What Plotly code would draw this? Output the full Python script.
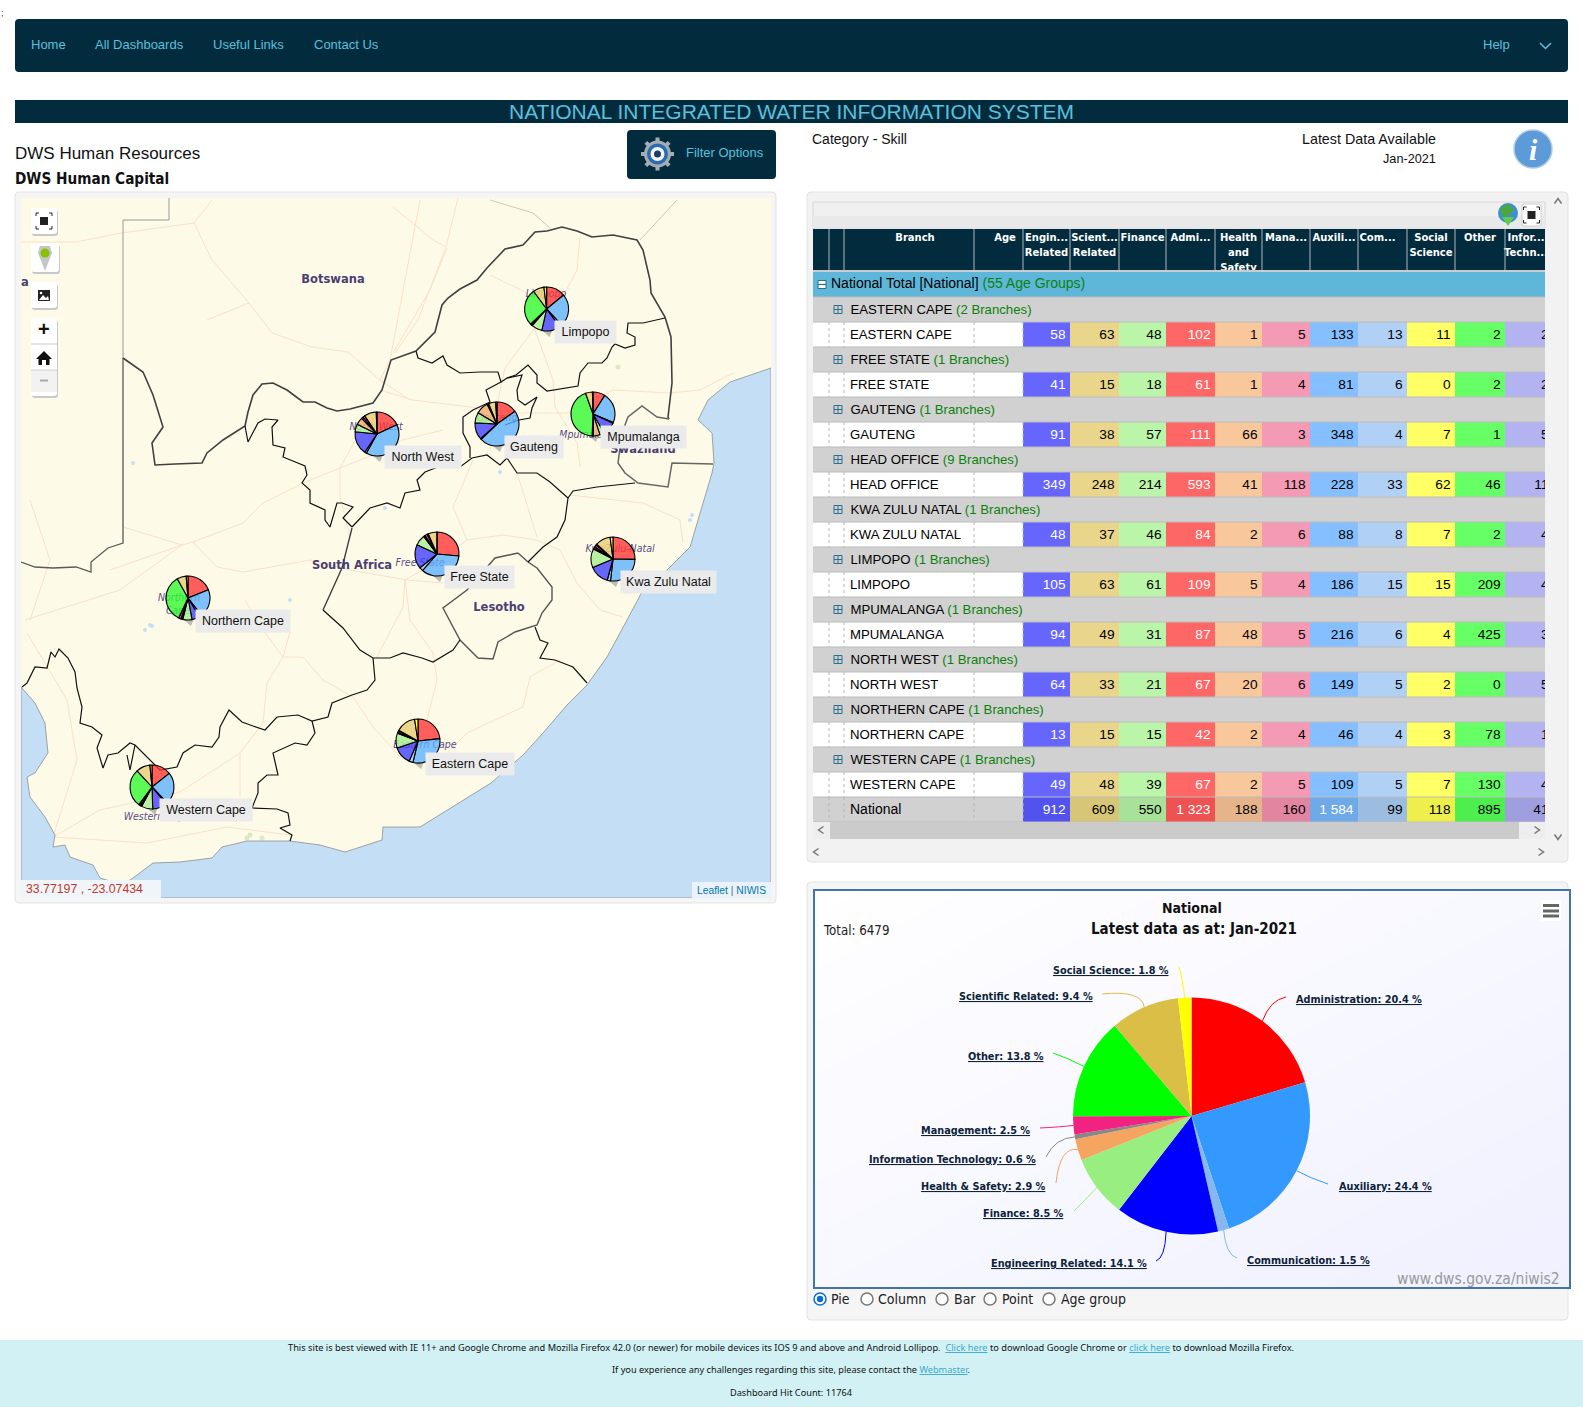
import math
import plotly.graph_objects as go

W, H = 1583, 1407

# ---------- table data ----------
branches = ["EASTERN CAPE", "FREE STATE", "GAUTENG", "HEAD OFFICE", "KWA ZULU NATAL", "LIMPOPO",
            "MPUMALANGA", "NORTH WEST", "NORTHERN CAPE", "WESTERN CAPE"]
branch_counts = [2, 1, 1, 9, 1, 1, 1, 1, 1, 1]
engineering = [58, 41, 91, 349, 48, 105, 94, 64, 13, 49]
scientific = [63, 15, 38, 248, 37, 63, 49, 33, 15, 48]
finance = [48, 18, 57, 214, 46, 61, 31, 21, 15, 39]
administration = [102, 61, 111, 593, 84, 109, 87, 67, 42, 67]
health = [1, 1, 66, 41, 2, 5, 48, 20, 2, 2]
management = [5, 4, 3, 118, 6, 4, 5, 6, 4, 5]
auxiliary = [133, 81, 348, 228, 88, 186, 216, 149, 46, 109]
communication = [13, 6, 4, 33, 8, 15, 6, 5, 4, 5]
social = [11, 0, 7, 62, 7, 15, 4, 2, 3, 7]
other = [2, 2, 1, 46, 2, 209, 425, 0, 78, 130]
info_tech = [2, 2, 5, 11, 4, 4, 3, 5, 1, 4]

table_columns = [engineering, scientific, finance, administration, health, management,
                 auxiliary, communication, social, other, info_tech]
header_lines = [["Engin...", "Related"], ["Scient...", "Related"], ["Finance"], ["Admi..."],
                ["Health", "and", "Safety"], ["Mana..."], ["Auxili..."], ["Com..."],
                ["Social", "Science"], ["Other"], ["Infor...", "Techn..."]]

# ---------- pie data ----------
pie_labels = ["Administration", "Auxiliary", "Communication", "Engineering Related", "Finance",
              "Health & Safety", "Information Technology", "Management", "Other",
              "Scientific Related", "Social Science"]
pie_series = [administration, auxiliary, communication, engineering, finance, health,
              info_tech, management, other, scientific, social]
pie_colors = ["#ff0000", "#3399ff", "#85b8ee", "#0000ff", "#99ee80", "#f5a55f", "#888888",
              "#f22280", "#00ff00", "#dbbe45", "#ffff00"]
mini_colors = ["rgba(255,50,50,.78)", "rgba(90,175,255,.78)", "rgba(150,200,245,.8)", "rgba(60,60,255,.78)",
               "rgba(170,240,150,.85)", "rgba(245,175,115,.85)", "rgba(120,120,120,.85)",
               "rgba(240,40,130,.85)", "rgba(50,250,50,.8)", "rgba(232,208,125,.88)", "rgba(255,255,60,.9)"]
province_names = ["Limpopo", "Mpumalanga", "Gauteng", "North West", "Free State", "Kwa Zulu Natal",
                  "Northern Cape", "Eastern Cape", "Western Cape"]
province_rows = [5, 6, 2, 7, 1, 4, 8, 0, 9]

# ---------- map geography, in map grid units ----------
sea = [(771,368),(730,382),(708,400),(698,420),(712,433),(714,463),(712,473),(702,507),(690,547),(667,570),
       (643,590),(627,620),(607,657),(587,685),(567,705),(543,733),(523,755),(491,783),(453,807),(420,827),
       (383,827),(382,840),(345,852),(320,845),(290,841),(247,841),(222,847),(212,858),(180,862),(153,863),
       (137,875),(123,885),(100,878),(93,865),(70,857),(65,845),(53,847),(55,835),(45,817),(30,797),(27,777),
       (35,773),(48,753),(45,723),(35,703),(21,687),(21,898),(771,898)]
intl_north = [(123,358),(143,372),(153,395),(163,427),(152,443),(155,465),(175,464),(202,463),(207,453),(223,440),
              (245,426),(248,412),(253,395),(262,384),(273,383),(287,390),(303,402),(315,402),(327,408),(337,411),
              (350,409),(373,403),(382,390),(391,360),(416,351),(435,332),(442,305),(448,298),(460,289),(477,280),
              (487,268),(505,249),(523,245),(535,232),(547,231),(562,227),(577,231),(592,237),(613,235),(637,240),
              (643,250),(650,280),(651,293),(665,317),(671,337),(672,383),(668,417),(669,419)]
swazi = [(669,419),(657,417),(642,406),(628,417),(622,433),(618,463),(625,473),(638,483),(668,487),(672,463),(713,464)]
namibia_top = [(169,198),(169,220),(123,220),(123,358)]
namibia = [(123,358),(123,543),(108,548),(91,562),(91,572),(76,567),(53,568),(35,567),(21,562)]
lesotho = [(518,553),(495,558),(467,590),(443,608),(460,640),(478,658),(493,659),(498,642),(515,632),(537,625),
           (542,613),(552,600),(552,587),(537,568),(528,562),(518,553)]
fs_west = [(323,610),(342,568),(352,528)]
limpopo_south = [(416,351),(418,358),(432,363),(443,356),(447,365),(460,373),(480,372),(498,372),(501,382),(507,378),
                 (516,375),(528,365),(537,375),(537,383),(547,391),(578,386),(580,373),(588,363),(602,363),(607,358),
                 (612,347),(615,344),(625,348),(635,345),(635,337),(627,333),(628,323),(643,323),(665,318)]
gauteng_a = [(501,382),(486,390),(490,402),(473,410),(463,417),(463,433),(470,447),(470,458)]
gauteng_b = [(507,378),(522,375),(517,390),(518,400),(525,405),(537,397),(532,408),(530,418),(519,420),(505,425)]
vaal = [(323,610),(343,628),(360,650),(373,658),(390,658),(403,653),(422,658),(433,662),(453,650),(460,640)]
fs_north = [(352,527),(370,508),(387,503),(400,508),(405,493),(420,490),(417,480),(425,472),(438,467),(460,467),
            (472,458),(487,455),(500,465),(507,458),(517,473),(537,473),(550,482),(568,498),(565,520),(557,537),
            (543,547),(528,562)]
kzn_north = [(568,498),(573,491),(597,487),(635,483)]
nw_nc = [(245,426),(248,442),(258,423),(265,419),(278,420),(272,427),(273,445),(285,448),(283,457),(305,466),(307,475),
         (302,483),(310,490),(310,503),(325,510),(325,520),(330,527),(337,503),(342,503),(353,507),(343,518),(352,527)]
nc_ec = [(373,658),(375,680),(367,690),(352,695),(332,703),(328,717),(312,721),(303,717),(298,715),(277,717),(265,730),
         (253,726),(242,722),(229,710),(220,727),(219,737),(212,747),(195,745),(183,753),(177,767),(160,770),(135,745),
         (130,743),(118,753),(108,755),(103,768),(97,748),(102,735),(92,727),(80,723),(82,707),(77,688),(75,672),(68,658),
         (59,649),(55,657),(51,652),(47,668),(35,667),(27,683),(22,687)]
wc_ec = [(312,721),(315,733),(307,745),(295,743),(273,753),(278,775),(267,775),(258,783),(258,793),(252,808),(277,809),
         (288,813),(290,825),(280,828),(292,835),(290,841)]
wc_spur = [(127,755),(130,770),(135,745)]
kzn_ec = [(535,627),(540,640),(548,643),(540,658),(555,660),(573,667),(587,683)]
grey_north = [[(490,200),(533,213),(550,228)], [(677,200),(640,240)]]
roads = [
    [(580,237),(577,270),(553,315),(533,330),(505,368),(498,400),(490,450)],
    [(447,248),(430,290),(393,353)],
    [(490,275),(527,293),(535,330),(553,380),(555,407),(577,443),(580,467)],
    [(380,390),(413,400),(470,407),(520,413),(567,413),(613,390),(670,393),(700,390),(733,373)],
    [(110,570),(182,545),(193,542),(243,523),(263,503),(303,483),(340,468),(373,455),(403,440),(443,430)],
    [(123,527),(182,545)],
    [(193,542),(217,567),(243,572),(310,560),(350,570),(407,580),(443,583)],
    [(340,468),(340,497),(350,537)],
    [(420,200),(390,360),(380,380),(410,400)],
    [(357,437),(340,468)],
    [(290,632),(283,657),(263,630),(245,600)],
    [(283,657),(267,683),(263,723),(240,753),(240,797)],
    [(283,657),(303,657),(323,680),(353,697),(373,727),(403,760)],
    [(53,837),(100,810),(180,792),(240,753),(263,723)],
    [(53,837),(147,843),(227,827),(290,835)],
    [(53,837),(77,760),(67,700),(27,633)],
    [(405,580),(403,607),(377,657)],
    [(405,580),(410,620),(433,653),(437,680),(427,720)],
    [(405,580),(440,560),(467,540),(503,535),(537,540),(560,550),(577,583),(600,610),(623,617)],
    [(467,540),(453,507),(473,460)],
    [(517,473),(537,537)],
    [(570,495),(643,503),(680,520),(683,543)],
    [(560,660),(530,677),(523,707),(467,733),(430,770)],
    [(194,223),(212,260),(249,303),(272,333),(312,347),(348,352),(383,383)],
    [(207,320),(249,303)],
    [(21,242),(76,242),(121,233),(194,223),(212,200)],
    [(393,207),(433,240),(446,247)],
    [(458,198),(446,247),(418,320),(395,353)],
    [(30,500),(50,560),(30,620)],
    [(123,440),(123,527)],
    [(25,620),(120,590),(182,545)],
]
water_x = [133, 150, 152, 690, 692, 145, 290, 385, 500, 700]
water_y = [463, 625, 626, 520, 515, 630, 600, 508, 472, 530]
park_x = [618, 247, 262, 250]
park_y = [367, 838, 838, 835]
map_place_names = ["Botswana", "South Africa", "Lesotho", "Swaziland", "a"]
map_place_x = [333, 352, 499, 643, 25]
map_place_y = [280, 566, 608, 450, 283]
province_tags = ["Limpopo", "North West", "Gauteng", "Mpumalanga", "Free State", "KwaZulu-Natal", "Northern", "Cape",
                 "Eastern Cape", "Western Cape"]
province_tag_x = [546, 376, 497, 590, 420, 620, 179, 178, 425, 157]
province_tag_y = [294, 427, 418, 435, 563, 549, 598, 611, 745, 817]

# ---------- layout constants ----------
col_edges = [813, 829, 844, 974, 1023, 1070, 1119, 1166, 1215, 1262, 1310, 1358, 1407, 1455, 1505, 1553]
ROW0, ROWH = 272, 25
NAVY, CYAN = "#022c3d", "#5bc0de"
ARIAL = "Liberation Sans"
COND = "DejaVu Sans Condensed, DejaVu Sans"

def fx(x): return x / W
def fy(y): return 1 - y / H

shapes, notes = [], []

def rect(x0, y0, x1, y1, fill=None, line=None, lw=1, layer="above"):
    shapes.append(dict(type="rect", xref="paper", yref="paper", x0=fx(x0), x1=fx(x1), y0=fy(y0), y1=fy(y1),
                       fillcolor=fill or "rgba(0,0,0,0)", line=dict(color=line or "rgba(0,0,0,0)", width=lw if line else 0),
                       layer=layer))

def circle(cx, cy, r, fill=None, line=None, lw=1, layer="above"):
    shapes.append(dict(type="circle", xref="paper", yref="paper", x0=fx(cx-r), x1=fx(cx+r), y0=fy(cy+r), y1=fy(cy-r),
                       fillcolor=fill or "rgba(0,0,0,0)", line=dict(color=line or "rgba(0,0,0,0)", width=lw if line else 0),
                       layer=layer))

def path(points, fill=None, line=None, lw=1, closed=False, curve=False, layer="above"):
    pts = [(fx(x), fy(y)) for x, y in points]
    if curve and len(pts) == 3:
        d = f"M{pts[0][0]},{pts[0][1]} Q{pts[1][0]},{pts[1][1]} {pts[2][0]},{pts[2][1]}"
    else:
        d = "M" + " L".join(f"{x},{y}" for x, y in pts) + (" Z" if closed else "")
    shapes.append(dict(type="path", xref="paper", yref="paper", path=d, fillcolor=fill or "rgba(0,0,0,0)",
                       line=dict(color=line or "rgba(0,0,0,0)", width=lw if line else 0), layer=layer))

def rrect(x0, y0, x1, y1, r, fill=None, line=None, lw=1, layer="below"):
    a, b, c, d = (fx(x0), fy(y0)), (fx(x1), fy(y0)), (fx(x1), fy(y1)), (fx(x0), fy(y1))
    rx, ry = r / W, r / H
    p = (f"M{a[0]+rx},{a[1]} L{b[0]-rx},{b[1]} Q{b[0]},{b[1]} {b[0]},{b[1]-ry} L{c[0]},{c[1]+ry} "
         f"Q{c[0]},{c[1]} {c[0]-rx},{c[1]} L{d[0]+rx},{d[1]} Q{d[0]},{d[1]} {d[0]},{d[1]+ry} "
         f"L{a[0]},{a[1]-ry} Q{a[0]},{a[1]} {a[0]+rx},{a[1]} Z")
    shapes.append(dict(type="path", xref="paper", yref="paper", path=p, fillcolor=fill or "rgba(0,0,0,0)",
                       line=dict(color=line or "rgba(0,0,0,0)", width=lw if line else 0), layer=layer))

def note(x, y, text, size=14, color="#222", anchor="left", family=ARIAL, **kw):
    font = dict(size=size, color=color, family=family)
    if kw.pop("under", False):
        font["lineposition"] = "under"
    if anchor == "left":
        x -= 1
    elif anchor == "right":
        x += 1
    notes.append(dict(xref="paper", yref="paper", x=fx(x), y=fy(y), text=text, showarrow=False, font=font,
                      xanchor=anchor, yanchor="middle", borderpad=0, **kw))

def chevron(cx, cy, d, color="#777"):
    s = 3.5
    if d == "l": pts = [(cx+s/1.4, cy-s), (cx-s/1.4, cy), (cx+s/1.4, cy+s)]
    if d == "r": pts = [(cx-s/1.4, cy-s), (cx+s/1.4, cy), (cx-s/1.4, cy+s)]
    if d == "u": pts = [(cx-s, cy+s/1.4), (cx, cy-s/1.4), (cx+s, cy+s/1.4)]
    if d == "d": pts = [(cx-s, cy-s/1.4), (cx, cy+s/1.4), (cx+s, cy-s/1.4)]
    path(pts, line=color, lw=1.5)

def expand_icon(cx, cy):
    rect(cx-4, cy-4, cx+4, cy+4, fill="#222")
    for sx in (-1, 1):
        for sy in (-1, 1):
            path([(cx+sx*5, cy+sy*8), (cx+sx*8, cy+sy*8), (cx+sx*8, cy+sy*5)], line="#222", lw=1)

# ---------- page furniture ----------
note(1, 13, ";", 9, "#333")
rrect(15, 19, 1568, 72, 4, NAVY)
for label, x in zip(["Home", "All Dashboards", "Useful Links", "Contact Us"], [31, 95, 213, 314]):
    note(x, 44.5, label, 13, CYAN)
note(1483, 44.5, "Help", 13, CYAN)
path([(1540, 43), (1545.5, 48.5), (1551, 43)], line=CYAN, lw=1.5)
rect(15, 100, 1568, 123, NAVY, layer="below")
note(791, 111.5, "NATIONAL INTEGRATED WATER INFORMATION SYSTEM", 21, CYAN, "center")
note(15, 154, "DWS Human Resources", 17, "#111")
note(15, 179, "<b>DWS Human Capital</b>", 15.2, "#111", family=COND)
rrect(627, 130, 776, 179, 4, NAVY)
note(686, 153, "Filter Options", 13, CYAN)
gx, gy = 657.5, 154
for k in range(8):
    a = k * math.pi / 4
    path([(gx+11*math.cos(a), gy+11*math.sin(a)), (gx+16.5*math.cos(a), gy+16.5*math.sin(a))], line="#a4acb4", lw=4)
circle(gx, gy, 13.5, "#a4acb4")
circle(gx, gy, 10.5, "#2b6cb0")
circle(gx, gy, 7, "#f4f6f8")
circle(gx, gy, 3.5, "#1d3e5e")
note(812, 139, "Category - Skill", 14, "#111")
note(1436, 139, "Latest Data Available", 14.3, "#111", "right")
note(1436, 159, "Jan-2021", 12.7, "#111", "right")
circle(1533, 149, 19, "#5d9bd8", "#a9cbe9", 1.5)
note(1533, 149, "<b><i>i</i></b>", 30, "#ffffff", "center", family="Liberation Serif")

# map panel
rrect(15, 192, 776, 903, 4, "#f5f5f5", "#e3e3e3", layer="below")
rect(21, 198, 771, 898, "#fdfbe7", layer="below")
# map controls
rrect(32, 210, 58, 236, 3, "#c8c8c8", layer="above")
rrect(31, 208, 57, 234, 3, "#ffffff", layer="above")
expand_icon(44, 221)
rrect(32, 245, 60, 274, 3, "#c8c8c8", layer="above")
rrect(31, 243, 59, 272, 3, "#ffffff", layer="above")
path([(38, 253), (45, 271), (52, 253), (50, 246), (40, 246)], "#c4c6c8", closed=True)
circle(45, 253, 4.5, "#88c000")
rrect(32, 284, 58, 310, 3, "#c8c8c8", layer="above")
rrect(31, 282, 57, 308, 3, "#ffffff", layer="above")
rect(38, 290, 50, 301, "#222")
path([(39, 300), (43, 295), (46, 298), (48, 296), (49, 300)], "#ffffff", closed=True)
circle(41, 293, 1.3, "#ffffff")
rrect(32, 320, 58, 398, 3, "#c8c8c8", layer="above")
rrect(31, 318, 57, 396, 3, "#ffffff", layer="above")
rect(31, 370, 57, 392, "#f2f2f2")
path([(31, 344), (57, 344)], line="#cccccc")
path([(31, 370), (57, 370)], line="#cccccc")
note(44, 329, "<b>+</b>", 20, "#111", "center")
path([(36, 359), (44, 351), (52, 359), (49.5, 359), (49.5, 365), (46, 365), (46, 360), (42, 360), (42, 365), (38.5, 365), (38.5, 359)],
     "#111", closed=True)
rect(40, 379.5, 48, 381.5, "#aaaaaa")
rect(21, 880, 161, 898, "#f0f5fa")
note(26, 889, "33.77197 , -23.07434", 12.3, "#c0392b")
rect(692, 882, 771, 898, "#eaf3fb")
note(697, 890, "<span style='color:#0078A8'>Leaflet</span> | <span style='color:#0078A8'>NIWIS</span>", 10.3, "#666")

# table panel
rrect(807, 192, 1568, 862, 4, "#f2f2f2", "#e3e3e3", layer="below")
rect(813, 202, 1545, 229, "#f0f0f0", "#d8d8d8", layer="below")
rect(813, 216, 1545, 228, "#e9e9e9", layer="below")
rect(813, 229, 1545, 270, NAVY, layer="below")
rect(813, 270, 1545, 272, "#cccccc", layer="below")
rect(813, 822, 1545, 839, "#eeeeee", layer="below")
rect(830, 822, 1519, 839, "#cbcbcb", layer="below")
chevron(821, 830, "l")
chevron(1537, 830, "r")
chevron(816, 852, "l")
chevron(1541, 852, "r")
chevron(1558, 201, "u")
chevron(1558, 837, "d")
circle(1508, 213, 10, "#3f8fd0")
path([(1500, 208), (1508, 204), (1514, 210), (1508, 216), (1502, 216)], "#49a83c", closed=True)
path([(1502, 217), (1514, 217), (1508, 226)], "#62cc4a", closed=True)
rrect(1522, 204, 1541, 226, 2, "#ffffff", "#d0d0d0", layer="above")
expand_icon(1531.5, 215)

# chart panel
rrect(807, 882, 1568, 1320, 4, "#f5f5f5", "#e3e3e3", layer="below")
rect(814, 890, 1570, 1288, None, "#4572a7", 2)
note(1192, 908, "<b>National</b>", 14, "#111", "center", family=COND)
note(1194, 929, "<b>Latest data as at: Jan-2021</b>", 15, "#111", "center", family=COND)
note(823, 930, "Total: 6479", 13.2, "#222", family=COND)
rect(1541, 900, 1561, 921, "#ffffff")
for y in (905.5, 911, 916):
    rect(1543, y-1.5, 1559, y+1.5, "#666666")
note(1560, 1279, "www.dws.gov.za/niwis2", 15.5, "#999999", "right", family=COND)
for i, (label, cx, tx) in enumerate(zip(["Pie", "Column", "Bar", "Point", "Age group"],
                                        [820, 867, 942, 990, 1049], [831, 878, 954, 1002, 1061])):
    circle(cx, 1299, 6, "#ffffff", "#0a6ed1" if i == 0 else "#777777", 1.5)
    if i == 0:
        circle(cx, 1299, 3.2, "#0a6ed1")
    note(tx, 1299, label, 14, "#222", family=COND)

# footer
rect(0, 1340, W, 1407, "#d2f1f5", layer="below")
link = "<span style='color:#3ba9cf;text-decoration:underline'>%s</span>"
note(791, 1347, "This site is best viewed with IE 11+ and Google Chrome and Mozilla Firefox 42.0 (or newer) for mobile devices its IOS 9 and above and Android Lollipop.  "
     + link % "Click here" + " to download Google Chrome or " + link % "click here" + " to download Mozilla Firefox.", 9.25, "#111", "center", family="Noto Sans")
note(791, 1369.5, "If you experience any challenges regarding this site, please contact the " + link % "Webmaster" + ".", 9.2, "#111", "center", family="Noto Sans")
note(791, 1392, "Dashboard Hit Count: 11764", 9.2, "#111", "center", family="Noto Sans")

# ---------- traces ----------
traces = []

def xy(seq):
    return [p[0] for p in seq], [p[1] for p in seq]

def map_line(seq, color, width):
    xs, ys = xy(seq)
    traces.append(go.Scatter(x=xs, y=ys, mode="lines", line=dict(color=color, width=width), hoverinfo="skip",
                             xaxis="x", yaxis="y", showlegend=False))

for r in roads:
    map_line(r, "#fae0ca", 1)
for g in grey_north:
    map_line(g, "#c9c9bb", 1)
traces.append(go.Scatter(x=park_x, y=park_y, mode="markers", marker=dict(color="#dde8c4", size=5), hoverinfo="skip",
                         xaxis="x", yaxis="y", showlegend=False))
sx, sy = xy(sea)
traces.append(go.Scatter(x=sx + [sx[0]], y=sy + [sy[0]], mode="lines", fill="toself", fillcolor="#c3def5",
                         line=dict(color="#8a8f90", width=0.8), hoverinfo="skip", xaxis="x", yaxis="y", showlegend=False))
traces.append(go.Scatter(x=water_x, y=water_y, mode="markers", marker=dict(color="#c3def5", size=4), hoverinfo="skip",
                         xaxis="x", yaxis="y", showlegend=False))
for seq, c, w in [(namibia_top, "#9a9a9a", 1), (namibia, "#5a5a5a", 1.3), (intl_north, "#404040", 1.6), (swazi, "#666666", 1.5),
                  (lesotho, "#555555", 1.4), (fs_west, "#404040", 1.4), (limpopo_south, "#111111", 1.2), (gauteng_a, "#111111", 1.2),
                  (gauteng_b, "#111111", 1.2), (vaal, "#111111", 1.2), (fs_north, "#111111", 1.2), (kzn_north, "#111111", 1.2),
                  (nw_nc, "#111111", 1.2), (nc_ec, "#111111", 1.2), (wc_ec, "#111111", 1.2), (wc_spur, "#111111", 1.2), (kzn_ec, "#111111", 1.2)]:
    map_line(seq, c, w)
traces.append(go.Scatter(x=map_place_x, y=map_place_y, text=[f"<b>{t}</b>" for t in map_place_names], mode="text",
                         textfont=dict(size=11.5, color="#4c3d73", family="DejaVu Sans"), hoverinfo="skip",
                         xaxis="x", yaxis="y", showlegend=False))
traces.append(go.Scatter(x=province_tag_x, y=province_tag_y, text=[f"<i>{t}</i>" for t in province_tags], mode="text",
                         textfont=dict(size=10.5, color="#5b4c85", family="DejaVu Sans Condensed, DejaVu Sans"), hoverinfo="skip",
                         xaxis="x", yaxis="y", showlegend=False))

# table cells
body_colors = ["#6666ff", "#e9d68a", "#bbf5aa", "#ff6666", "#f9c79c", "#f59ab5", "#85bfff", "#b0d1f5", "#ffff66", "#66ff66", "#b3b3f2"]
total_colors = ["#5252ee", "#d8c678", "#a8e29a", "#ee5252", "#e5b48a", "#e285a0", "#6eaae8", "#9dbde0", "#eeee4d", "#4dee4d", "#9f9fe0"]
palette = ["#5eb6d9", "#d1d1d1", "#ffffff"] + body_colors + total_colors
scale = []
for i, c in enumerate(palette):
    scale += [[i / len(palette), c], [(i + 1) / len(palette), c]]
n_cols = len(col_edges) - 1
z = [[0.5] * n_cols]
for i in range(len(branches)):
    z.append([1.5] * n_cols)
    z.append([2.5] * 4 + [3.5 + j for j in range(11)])
z.append([1.5] * 4 + [14.5 + j for j in range(11)])
n_rows = len(z)
row_edges = [ROW0 + ROWH * i for i in range(n_rows + 1)]
traces.append(go.Heatmap(x=col_edges, y=row_edges, z=z, colorscale=scale, zmin=0, zmax=len(palette), zauto=False,
                         showscale=False, hoverinfo="skip", xaxis="x2", yaxis="y2", xgap=0, ygap=0))

def row_mid(i): return ROW0 + ROWH * i + ROWH / 2 + 1

def fmt(v):
    return f"{v:,}".replace(",", " ")

num_x, num_y, num_t, num_c = [], [], [], []
totals = [sum(c) for c in table_columns]
for j, col in enumerate(table_columns):
    right = col_edges[4 + j + 1] - 4.5
    light = j in (0, 3)
    for i, v in enumerate(col):
        num_x.append(right); num_y.append(row_mid(2 + 2 * i)); num_t.append(fmt(v))
        num_c.append("#ffffff" if light else "#000000")
    num_x.append(right); num_y.append(row_mid(21)); num_t.append(fmt(totals[j]))
    num_c.append("#ffffff" if j in (0, 3, 6) else "#000000")
traces.append(go.Scatter(x=num_x, y=num_y, text=num_t, mode="text", textposition="middle left",
                         textfont=dict(size=13.7, color=num_c, family=ARIAL), hoverinfo="skip",
                         xaxis="x2", yaxis="y2", showlegend=False))
lab_x, lab_y, lab_t = [831], [row_mid(0) - 1], ["National Total [National] <span style='color:#0a820a'>(55 Age Groups)</span>"]
traces.append(go.Scatter(x=lab_x, y=lab_y, text=lab_t, mode="text", textposition="middle right",
                         textfont=dict(size=14, color="#000000", family=ARIAL), hoverinfo="skip",
                         xaxis="x2", yaxis="y2", showlegend=False))
lab_x, lab_y, lab_t = [], [], []
for i, (b, n) in enumerate(zip(branches, branch_counts)):
    lab_x.append(850.5); lab_y.append(row_mid(1 + 2 * i))
    lab_t.append(f"{b} <span style='color:#0a820a'>({n} Branches)</span>")
    lab_x.append(850); lab_y.append(row_mid(2 + 2 * i)); lab_t.append(b)
traces.append(go.Scatter(x=lab_x, y=lab_y, text=lab_t, mode="text", textposition="middle right",
                         textfont=dict(size=13.2, color="#000000", family=ARIAL), hoverinfo="skip",
                         xaxis="x2", yaxis="y2", showlegend=False))
traces.append(go.Scatter(x=[850], y=[row_mid(21)], text=["National"], mode="text", textposition="middle right",
                         textfont=dict(size=14, color="#000000", family=ARIAL), hoverinfo="skip",
                         xaxis="x2", yaxis="y2", showlegend=False))
traces.append(go.Scatter(x=[838] * len(branches), y=[row_mid(1 + 2 * i) - 1 for i in range(len(branches))], mode="markers",
                         marker=dict(symbol="square-cross-open", size=8, color="#2b6f8f", line=dict(width=1, color="#2b6f8f")),
                         hoverinfo="skip", xaxis="x2", yaxis="y2", showlegend=False))
traces.append(go.Scatter(x=[822], y=[row_mid(0) - 1], mode="markers",
                         marker=dict(symbol="square", size=8, color="#ffffff", line=dict(width=1, color="#2b6f8f")),
                         hoverinfo="skip", xaxis="x2", yaxis="y2", showlegend=False))
traces.append(go.Scatter(x=[822], y=[row_mid(0) - 1], mode="markers",
                         marker=dict(symbol="line-ew", size=6, line=dict(width=1.2, color="#2b6f8f")),
                         hoverinfo="skip", xaxis="x2", yaxis="y2", showlegend=False))
# header text
hx, hy, ht = [915, 1005], [238, 238], ["<b>Branch</b>", "<b>Age</b>"]
for j, lines in enumerate(header_lines):
    cx = (col_edges[4 + j] + col_edges[4 + j + 1]) / 2
    if j == 7:
        cx -= 5
    if j == 10:
        cx = col_edges[14] + 21
    for k, t in enumerate(lines):
        hx.append(cx); hy.append(238 + 15 * k); ht.append(f"<b>{t}</b>")
traces.append(go.Scatter(x=hx, y=hy, text=ht, mode="text", textposition="middle center",
                         textfont=dict(size=10, color="#ffffff", family="DejaVu Sans"), hoverinfo="skip",
                         xaxis="x3", yaxis="y3", showlegend=False))
# chart gradient
traces.append(go.Heatmap(x=[0, 1], y=[0, 1], z=[[0, 0.5], [0.5, 1]], zsmooth="best", showscale=False, hoverinfo="skip",
                         colorscale=[[0, "#ffffff"], [1, "#f0f0ff"]], xaxis="x4", yaxis="y4"))

def pie_domain(cx, cy, r):
    return dict(x=[fx(cx - r), fx(cx + r)], y=[fy(cy + r), fy(cy - r)])

# national pie
national = [sum(s) for s in pie_series]
PX, PY, PR = 1191.5, 1116, 118.5
traces.append(go.Pie(values=national, labels=pie_labels, marker=dict(colors=pie_colors, line=dict(width=0)), sort=False,
                     direction="clockwise", rotation=0, textinfo="none", hoverinfo="label+percent", showlegend=False,
                     domain=pie_domain(PX, PY, PR)))
# province pies
pie_cx = [546.6, 593, 497, 377, 437, 613, 188, 418, 152]
pie_cy = [309, 414, 424, 434, 554, 559, 598, 741, 787]
for name, row, cx, cy in zip(province_names, province_rows, pie_cx, pie_cy):
    vals = [s[row] for s in pie_series]
    traces.append(go.Pie(values=vals, labels=pie_labels, marker=dict(colors=mini_colors, line=dict(width=1.1, color="#000000")),
                         sort=False, direction="clockwise", rotation=0, textinfo="none", hoverinfo="label+value", showlegend=False,
                         name=name, domain=pie_domain(cx, cy, 22)))
    path([(cx-4, cy+22), (cx+6, cy+21), (cx+3, cy+28)], "#bdbdb5", closed=True, layer="below")

# province labels
box_left = [555, 601, 505, 385, 445, 621, 196, 426, 160]
box_right = [616, 686, 563, 461, 514, 716, 290, 514, 252]
box_top = [321, 426, 436, 446, 566, 571, 610, 753, 799]
for name, x0, x1, y0 in zip(province_names, box_left, box_right, box_top):
    note((x0 + x1) / 2, y0 + 11, name, 12.5, "#111", "center", bgcolor="#ebebeb", width=x1 - x0, height=22)

# national pie labels and leaders
label_anchor = ["left", "left", "left", "right", "right", "right", "right", "right", "right", "right", "right"]
label_x = [1296, 1339, 1247, 1147, 1064, 1046, 1036, 1030, 1044, 1093, 1169]
label_y = [999, 1186, 1260, 1263, 1213, 1186, 1159, 1130, 1056, 997, 970]
leader_ctrl = [(1270, 1000), (1310, 1178), (1226, 1255), (1165, 1258), (1090, 1195), (1060, 1146), (1055, 1138),
               (1060, 1127), (1068, 1058), (1142, 990), (1182, 975)]
leader_end = [(1286, 997), (1328, 1184), (1237, 1258), (1156, 1261), (1074, 1211), (1056, 1183), (1046, 1157),
              (1040, 1128), (1053, 1053), (1102, 994), (1179, 967)]
tot, acc = sum(national), 0
for i, v in enumerate(national):
    mid = (acc + v / 2) / tot * 2 * math.pi
    acc += v
    start = (PX + PR * math.sin(mid), PY - PR * math.cos(mid))
    path([start, leader_ctrl[i], leader_end[i]], line=pie_colors[i], lw=1, curve=True)
    note(label_x[i], label_y[i], f"<b>{pie_labels[i]}: {v / tot * 100:.1f} %</b>", 10.8, "#0d233a", label_anchor[i], family=COND, under=True)

# ---------- axes ----------
def px_axes(x0, x1, y0, y1, anchor_x, anchor_y):
    xa = dict(range=[x0, x1], domain=[fx(x0), fx(x1)], visible=False, fixedrange=True, anchor=anchor_y)
    ya = dict(range=[y1, y0], domain=[fy(y1), fy(y0)], visible=False, fixedrange=True, anchor=anchor_x)
    return xa, ya

xa1, ya1 = px_axes(21, 771, 198, 898, "x", "y")
xa2, ya2 = px_axes(813, 1545, 272, 822, "x2", "y2")
xa3, ya3 = px_axes(813, 1545, 229, 270, "x3", "y3")
xa4, ya4 = px_axes(814, 1570, 890, 1288, "x4", "y4")
xa4["range"] = [0, 1]
ya4["range"] = [1, 0]

# table separators
for i in range(1, n_rows + 1):
    shapes.append(dict(type="line", xref="x2", yref="y2", x0=813, x1=1545, y0=ROW0 + ROWH * i, y1=ROW0 + ROWH * i,
                       line=dict(color="#bcbcbc", width=1), layer="above"))
for i in list(range(2, 21, 2)) + [21]:
    for e in col_edges[1:5]:
        shapes.append(dict(type="line", xref="x2", yref="y2", x0=e, x1=e, y0=ROW0 + ROWH * i, y1=ROW0 + ROWH * (i + 1),
                           line=dict(color="#b5b5b5", width=1, dash="dot"), layer="above"))
for e in col_edges[1:-1]:
    shapes.append(dict(type="line", xref="x3", yref="y3", x0=e, x1=e, y0=229, y1=270,
                       line=dict(color="#aeb8bd", width=1), layer="above"))

fig = go.Figure(data=traces)
fig.update_layout(width=W, height=H, autosize=False, margin=dict(l=0, r=0, t=0, b=0, pad=0),
                  paper_bgcolor="#ffffff", plot_bgcolor="rgba(0,0,0,0)", showlegend=False, hovermode="closest",
                  xaxis=xa1, yaxis=ya1, xaxis2=xa2, yaxis2=ya2, xaxis3=xa3, yaxis3=ya3, xaxis4=xa4, yaxis4=ya4,
                  shapes=shapes, annotations=notes)
fig.write_html("out.html", config=dict(displayModeBar=False),
               post_script="document.body.style.margin='0';document.documentElement.style.overflow='hidden';")
